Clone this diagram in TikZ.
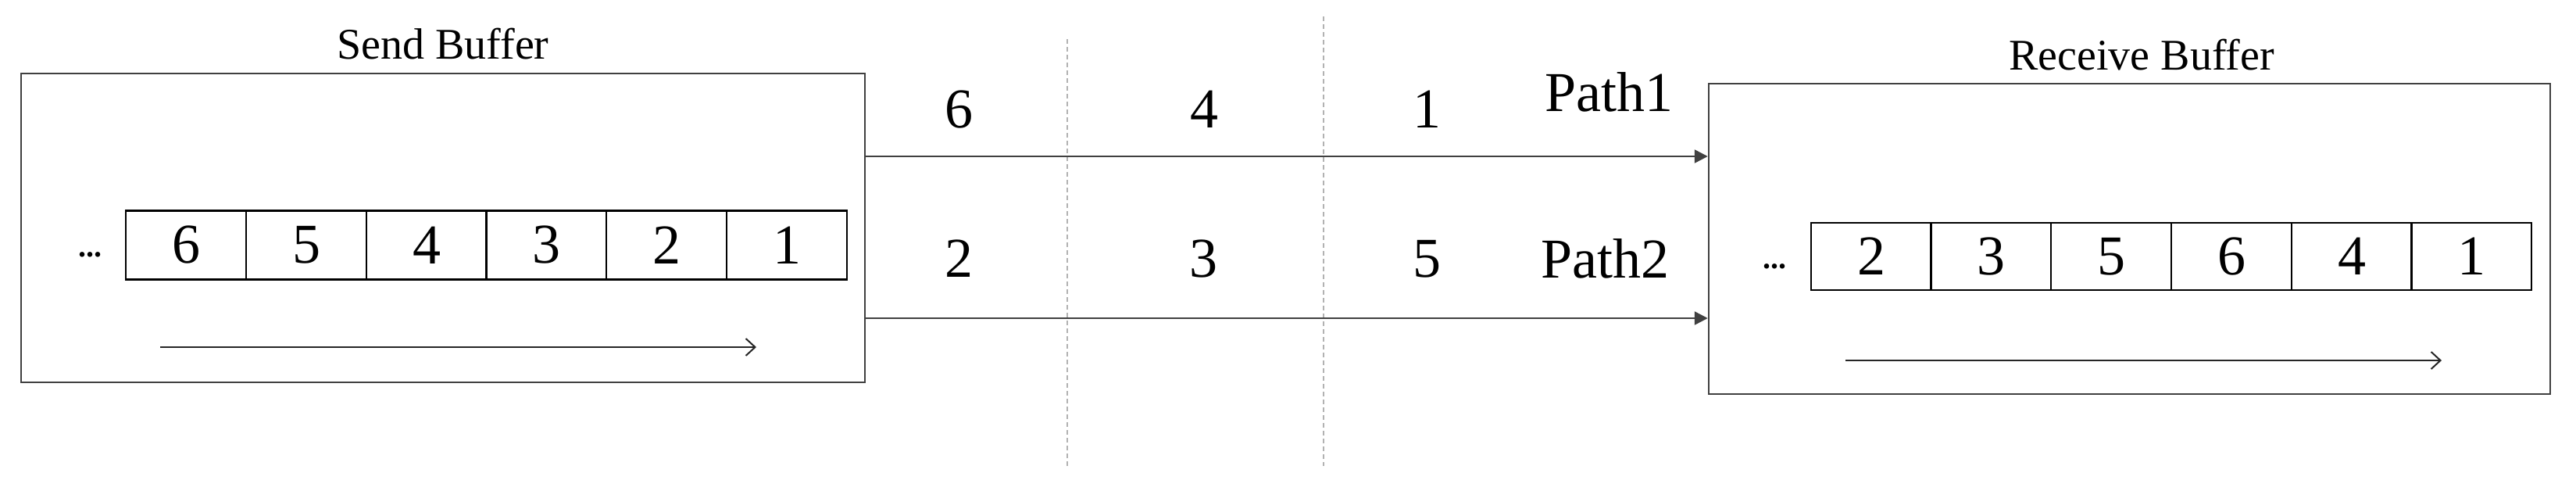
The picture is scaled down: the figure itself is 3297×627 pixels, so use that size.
\documentclass[tikz,border=0pt]{standalone}
\usepackage{fontspec}
\setmainfont{Liberation Serif}
\usetikzlibrary{arrows.meta}
\begin{document}
\begin{tikzpicture}[x=1pt,y=-1pt,
  bufbox/.style={draw=black!75, line width=2.5pt, inner sep=0pt},
  cell/.style={draw=black, line width=2.2pt, minimum width=153.8pt, minimum height=88pt, inner sep=0pt, font=\fontsize{72}{80}\selectfont},
  title/.style={anchor=base, inner sep=0pt, font=\fontsize{56}{60}\selectfont},
  lab/.style={anchor=base, inner sep=0pt, font=\fontsize{72}{80}\selectfont},
  dots/.style={anchor=base, inner sep=0pt, font=\fontsize{40}{44}\selectfont\bfseries},
  patharrow/.style={draw=black!75, line width=2.5pt, -{Triangle[length=17pt,width=17pt]}},
  dirarrow/.style={draw=black!85, line width=2pt, -{Straight Barb[length=12pt,width=22pt]}},
  sepline/.style={draw=black!30, line width=1.5pt, dash pattern=on 6pt off 4pt}]
\useasboundingbox (0,0) rectangle (3297,627);
% separators
\draw[sepline] (1366,50) -- (1366,596);
\draw[sepline] (1694,21) -- (1694,596);
% send buffer
\node[bufbox, minimum width=1080pt, minimum height=395pt] (send) at (567,291.5) {};
\node[title] (sendt) at (567,75) {Send Buffer};
\node[cell] (s1) at (238,313.5) {6};
\node[cell] (s2) at (392,313.5) {5};
\node[cell] (s3) at (546,313.5) {4};
\node[cell] (s4) at (699,313.5) {3};
\node[cell] (s5) at (853,313.5) {2};
\node[cell] (s6) at (1007,313.5) {1};
\node[dots] (sd) at (115,328) {...};
\coordinate (sa0) at (205,444);
\coordinate (sa1) at (968,444);
\draw[dirarrow] (sa0) -- (sa1);
% receive buffer
\node[bufbox, minimum width=1077pt, minimum height=397pt] (recv) at (2725.5,305.5) {};
\node[title] (recvt) at (2741,89) {Receive Buffer};
\node[cell, minimum height=86pt] (r1) at (2395,328) {2};
\node[cell, minimum height=86pt] (r2) at (2548,328) {3};
\node[cell, minimum height=86pt] (r3) at (2702,328) {5};
\node[cell, minimum height=86pt] (r4) at (2856,328) {6};
\node[cell, minimum height=86pt] (r5) at (3010,328) {4};
\node[cell, minimum height=86pt] (r6) at (3163,328) {1};
\node[dots] (rd) at (2271,343) {...};
\coordinate (ra0) at (2362,461);
\coordinate (ra1) at (3125,461);
\draw[dirarrow] (ra0) -- (ra1);
% paths
\coordinate (p1) at (0,200);
\coordinate (p2) at (0,407);
\draw[patharrow] (send.east |- p1) -- (recv.west |- p1);
\draw[patharrow] (send.east |- p2) -- (recv.west |- p2);
\node[lab] (a6) at (1227,163) {6};
\node[lab] (a4) at (1541,163) {4};
\node[lab] (a1) at (1826,163) {1};
\node[lab] (path1) at (2059,142) {Path1};
\node[lab] (b2) at (1227,354) {2};
\node[lab] (b3) at (1540,354) {3};
\node[lab] (b5) at (1826,354) {5};
\node[lab] (path2) at (2054,355) {Path2};
\end{tikzpicture}
\end{document}
